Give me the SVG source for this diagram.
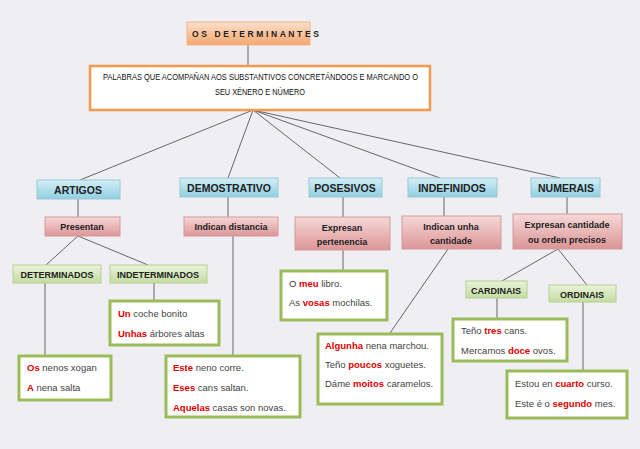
<svg xmlns="http://www.w3.org/2000/svg" width="640" height="449" viewBox="0 0 640 449">
<defs>
<linearGradient id="gO" x1="0" y1="0" x2="0" y2="1"><stop offset="0" stop-color="#fde0cc"/><stop offset="1" stop-color="#f5a66e"/></linearGradient>
<linearGradient id="gB" x1="0" y1="0" x2="0" y2="1"><stop offset="0" stop-color="#d4eef6"/><stop offset="1" stop-color="#8fcfe2"/></linearGradient>
<linearGradient id="gP" x1="0" y1="0" x2="0" y2="1"><stop offset="0" stop-color="#f6d8d8"/><stop offset="1" stop-color="#dc9596"/></linearGradient>
<linearGradient id="gG" x1="0" y1="0" x2="0" y2="1"><stop offset="0" stop-color="#eaf3da"/><stop offset="1" stop-color="#c3dca2"/></linearGradient>
</defs>
<style>
text{font-family:"Liberation Sans",Arial,sans-serif;fill:#222}
.h{font-weight:bold;font-size:10.5px;text-anchor:middle}
.s{font-weight:bold;font-size:9px;text-anchor:middle}
.t{font-size:9.5px;fill:#444}
.r{fill:#e00000;font-weight:bold}
.cb{fill:url(#gB);stroke:#9cc8d6;stroke-width:1}
.cp{fill:url(#gP);stroke:#d49a9a;stroke-width:1}
.cg{fill:url(#gG);stroke:#b6d08e;stroke-width:1}
.ex{fill:#fff;stroke:#9bbb59;stroke-width:3}
.ln{stroke:#444;stroke-width:0.8;fill:none}
</style>
<rect width="640" height="449" fill="#efeef3"/>
<g id="connectors" class="ln">
<line x1="248" y1="45" x2="248" y2="65"/>
<line x1="253" y1="110" x2="80" y2="180"/>
<line x1="253" y1="110" x2="228" y2="178"/>
<line x1="253" y1="110" x2="340" y2="178"/>
<line x1="253" y1="110" x2="440" y2="178"/>
<line x1="253" y1="110" x2="560" y2="178"/>
<line x1="78" y1="199" x2="78" y2="217"/>
<line x1="78" y1="236" x2="46" y2="265"/>
<line x1="78" y1="236" x2="148" y2="265"/>
<line x1="45" y1="283" x2="45" y2="355"/>
<line x1="154" y1="283" x2="154" y2="300"/>
<line x1="228" y1="197" x2="228" y2="217"/>
<line x1="233" y1="236" x2="233" y2="355"/>
<line x1="343" y1="197" x2="343" y2="217"/>
<line x1="343" y1="250" x2="343" y2="270"/>
<line x1="444" y1="197" x2="444" y2="216"/>
<line x1="448" y1="249" x2="390" y2="333"/>
<line x1="567" y1="197" x2="567" y2="214"/>
<line x1="558" y1="249" x2="502" y2="281"/>
<line x1="558" y1="249" x2="587" y2="285"/>
<line x1="497" y1="298" x2="497" y2="318"/>
<line x1="583" y1="302" x2="583" y2="370"/>
</g>
<g id="title"><rect x="187" y="22" width="123" height="23" fill="url(#gO)" stroke="#f0b48a"/><text x="192" y="37" style="font-weight:bold;font-size:8.5px;letter-spacing:2.6px">OS DETERMINANTES</text></g>
<g id="def"><rect x="90" y="66" width="340" height="44" fill="#fff" stroke="#f39a4f" stroke-width="2.5"/><text x="103" y="80" style="font-size:9px;fill:#111" textLength="315" lengthAdjust="spacingAndGlyphs">PALABRAS QUE ACOMPAÑAN  AOS SUBSTANTIVOS CONCRETÁNDOOS E MARCANDO O</text><text x="260" y="95" style="font-size:9px;fill:#111;text-anchor:middle" textLength="90" lengthAdjust="spacingAndGlyphs">SEU XÉNERO E NÚMERO</text></g>
<g id="artigos"><rect x="37" y="180" width="83" height="19" class="cb"/><text x="78" y="194" class="h">ARTIGOS</text></g>
<g id="demostrativo"><rect x="180" y="178" width="98" height="19" class="cb"/><text x="229" y="192" class="h">DEMOSTRATIVO</text></g>
<g id="posesivos"><rect x="309" y="178" width="73" height="19" class="cb"/><text x="345" y="192" class="h">POSESIVOS</text></g>
<g id="indefinidos"><rect x="408" y="178" width="89" height="19" class="cb"/><text x="452" y="192" class="h">INDEFINIDOS</text></g>
<g id="numerais"><rect x="531" y="178" width="69" height="19" class="cb"/><text x="566" y="192" class="h">NUMERAIS</text></g>
<g id="presentan"><rect x="45" y="217" width="75" height="19" class="cp"/><text x="82" y="230" class="s">Presentan</text></g>
<g id="indican-distancia"><rect x="184" y="217" width="94" height="19" class="cp"/><text x="231" y="230" class="s">Indican distancia</text></g>
<g id="expresan-pertenencia"><rect x="295" y="217" width="95" height="33" class="cp"/><text x="342" y="231" class="s">Expresan</text><text x="342" y="245" class="s">pertenencia</text></g>
<g id="indican-cantidade"><rect x="402" y="216" width="99" height="33" class="cp"/><text x="451" y="230" class="s">Indican unha</text><text x="451" y="244" class="s">cantidade</text></g>
<g id="expresan-cantidade"><rect x="513" y="214" width="109" height="35" class="cp"/><text x="567" y="228" class="s">Expresan cantidade</text><text x="567" y="243" class="s">ou orden precisos</text></g>
<g id="determinados"><rect x="13" y="265" width="88" height="18" class="cg"/><text x="57" y="278" class="s">DETERMINADOS</text></g>
<g id="indeterminados"><rect x="110" y="265" width="97" height="18" class="cg"/><text x="158" y="278" class="s">INDETERMINADOS</text></g>
<g id="cardinais"><rect x="466" y="281" width="61" height="17" class="cg"/><text x="496" y="294" class="s">CARDINAIS</text></g>
<g id="ordinais"><rect x="549" y="285" width="67" height="17" class="cg"/><text x="582" y="298" class="s">ORDINAIS</text></g>
<g id="ex-os"><rect x="19" y="356" width="92" height="44" class="ex"/><text x="27" y="371" class="t"><tspan class="r">Os</tspan> nenos xogan</text><text x="27" y="391" class="t"><tspan class="r">A</tspan> nena salta</text></g>
<g id="ex-un"><rect x="110" y="301" width="109" height="44" class="ex"/><text x="118" y="317" class="t"><tspan class="r">Un</tspan> coche bonito</text><text x="118" y="337" class="t"><tspan class="r">Unhas</tspan> árbores altas</text></g>
<g id="ex-este"><rect x="166" y="356" width="134" height="61" class="ex"/><text x="173" y="371" class="t"><tspan class="r">Este</tspan> neno corre.</text><text x="173" y="391" class="t"><tspan class="r">Eses</tspan> cans saltan.</text><text x="173" y="411" class="t"><tspan class="r">Aquelas</tspan> casas son novas.</text></g>
<g id="ex-meu"><rect x="281" y="271" width="106" height="49" class="ex"/><text x="289" y="287" class="t">O <tspan class="r">meu</tspan> libro.</text><text x="289" y="306" class="t">As <tspan class="r">vosas</tspan>  mochilas.</text></g>
<g id="ex-algunha"><rect x="318" y="334" width="124" height="70" class="ex"/><text x="325" y="349" class="t"><tspan class="r">Algunha</tspan>  nena  marchou.</text><text x="325" y="368" class="t">Teño <tspan class="r">poucos</tspan> xoguetes.</text><text x="325" y="387" class="t">Dáme <tspan class="r">moitos</tspan> caramelos.</text></g>
<g id="ex-tres"><rect x="453" y="319" width="114" height="42" class="ex"/><text x="461" y="334" class="t">Teño <tspan class="r">tres</tspan> cans.</text><text x="461" y="354" class="t">Mercamos <tspan class="r">doce</tspan>  ovos.</text></g>
<g id="ex-cuarto"><rect x="507" y="371" width="120" height="47" class="ex"/><text x="515" y="387" class="t">Estou en <tspan class="r">cuarto</tspan> curso.</text><text x="515" y="407" class="t">Este é o  <tspan class="r">segundo</tspan>  mes.</text></g>
</svg>
